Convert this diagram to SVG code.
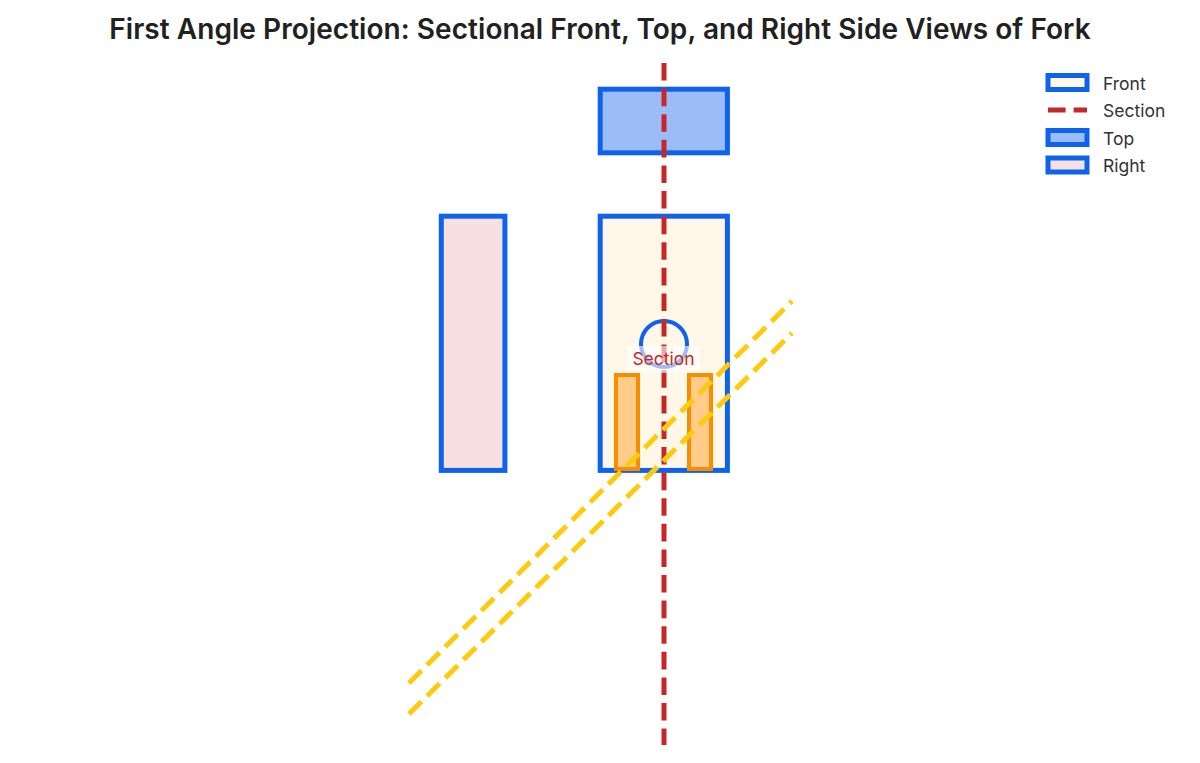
<svg xmlns="http://www.w3.org/2000/svg" width="1200" height="763" viewBox="0 0 1200 763">
<style>
text{font-family:"Inter","Noto Sans","Liberation Sans",sans-serif}
.title{font-size:28px;font-weight:600;fill:#212121;text-anchor:middle;letter-spacing:0.05px}
.leg{font-size:17.5px;fill:#333}
.view{stroke:#0F62EC;stroke-width:5}
.fork{stroke:#FB8C00;stroke-width:4;fill:#FFCC8A}
.sec{stroke:#C62828;stroke-width:5;stroke-dasharray:17.6 8;fill:none}
.proj{stroke:#FFCA0E;stroke-width:5;stroke-dasharray:17.6 8;fill:none}
</style>
<rect width="1200" height="763" fill="#fff"/>
<text class="title" x="600" y="39">First Angle Projection: Sectional Front, Top, and Right Side Views of Fork</text>
<g id="top-view"><rect class="view" x="600.200" y="89.200" width="127.200" height="63.600" fill="#9BBCF7"/></g>
<g id="right-view"><rect class="view" x="441.300" y="216.200" width="63.600" height="254.200" fill="#F8E0E0"/></g>
<g id="front-view"><rect class="view" x="600.200" y="216.200" width="127.200" height="254.200" fill="#FFF8E8"/>
<circle cx="664" cy="344" r="23" fill="none" stroke="#0F62EC" stroke-width="4"/></g>
<g id="fork-left"><rect class="fork" x="616" y="375" width="22" height="94"/></g>
<g id="fork-right"><rect class="fork" x="689" y="375" width="22" height="94"/></g>
<g id="connectors">
<line class="sec" x1="664" y1="63" x2="664" y2="745"/>
<line class="proj" x1="409" y1="683" x2="792" y2="301"/>
<line class="proj" x1="409" y1="714" x2="792" y2="333"/>
</g>
<g id="section-label"><rect x="627" y="346" width="73" height="27" fill="#fff" fill-opacity="0.6"/>
<text x="663.500" y="365" font-size="17.500" fill="#C62828" text-anchor="middle">Section</text></g>
<g id="legend">
<rect class="view" x="1048" y="75.500" width="39" height="14" fill="#FFF8E8"/>
<line class="sec" x1="1048" y1="110" x2="1087" y2="110"/>
<rect class="view" x="1048" y="130.500" width="39" height="14" fill="#9BBCF7"/>
<rect class="view" x="1048" y="158" width="39" height="14" fill="#F8E0E0"/>
<text class="leg" x="1103" y="90">Front</text>
<text class="leg" x="1103" y="117">Section</text>
<text class="leg" x="1103" y="145">Top</text>
<text class="leg" x="1103" y="172">Right</text>
</g>
</svg>
